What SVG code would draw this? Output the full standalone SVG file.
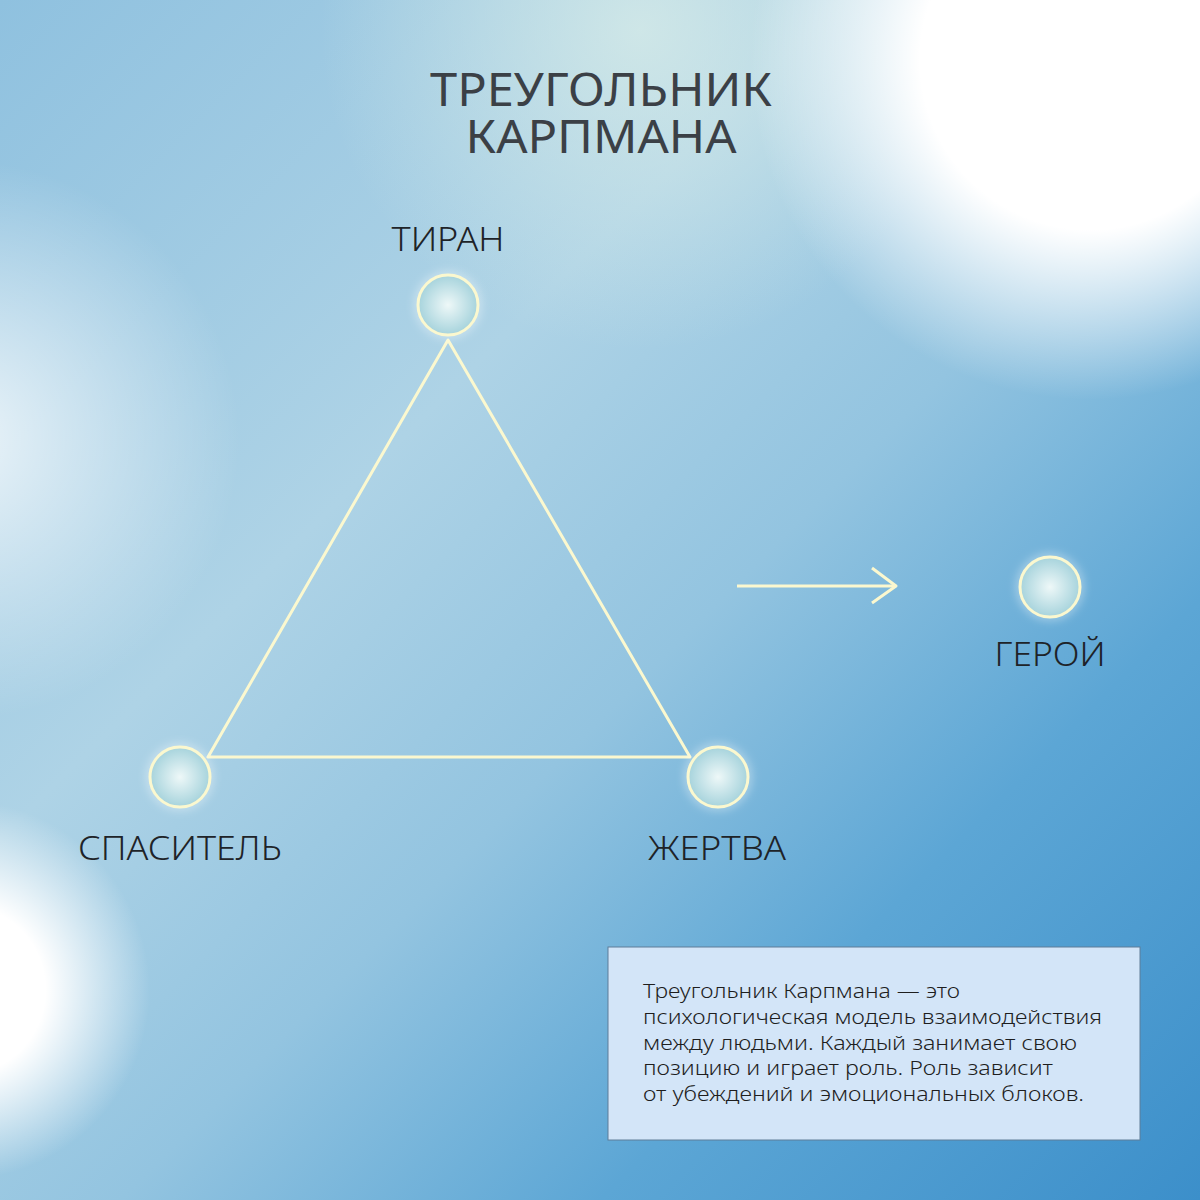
<svg xmlns="http://www.w3.org/2000/svg" width="1200" height="1200" viewBox="0 0 1200 1200">
<defs>
<linearGradient id="bg" x1="0" y1="0" x2="1" y2="1">
<stop offset="0" stop-color="#8fc1df"/>
<stop offset="0.35" stop-color="#aed3e6"/>
<stop offset="0.55" stop-color="#93c4e0"/>
<stop offset="0.75" stop-color="#5ca6d5"/>
<stop offset="1" stop-color="#3c8fca"/>
</linearGradient>
<radialGradient id="glowTR" cx="1090" cy="60" r="340" gradientUnits="userSpaceOnUse">
<stop offset="0" stop-color="#ffffff"/>
<stop offset="0.5" stop-color="#ffffff"/>
<stop offset="1" stop-color="#ffffff" stop-opacity="0"/>
</radialGradient>
<radialGradient id="glowBL" cx="-40" cy="990" r="190" gradientUnits="userSpaceOnUse">
<stop offset="0" stop-color="#ffffff"/>
<stop offset="0.45" stop-color="#ffffff"/>
<stop offset="1" stop-color="#ffffff" stop-opacity="0"/>
</radialGradient>
<radialGradient id="glowL" cx="-40" cy="440" r="280" gradientUnits="userSpaceOnUse">
<stop offset="0" stop-color="#ffffff" stop-opacity="0.8"/>
<stop offset="1" stop-color="#ffffff" stop-opacity="0"/>
</radialGradient>
<radialGradient id="glowTop" cx="640" cy="30" r="320" gradientUnits="userSpaceOnUse">
<stop offset="0" stop-color="#d8ece8" stop-opacity="0.8"/>
<stop offset="1" stop-color="#d8ece8" stop-opacity="0"/>
</radialGradient>
<radialGradient id="ball" cx="0.5" cy="0.5" r="0.5">
<stop offset="0" stop-color="#eef8f8"/>
<stop offset="1" stop-color="#a6d3dc"/>
</radialGradient>
<filter id="halo" x="-50%" y="-50%" width="200%" height="200%">
<feGaussianBlur stdDeviation="5"/>
</filter>
<style>
.ring{fill:url(#ball);stroke:#fbf8cf;stroke-width:3}
.halo{fill:none;stroke:#ffffff;stroke-opacity:0.5;stroke-width:6;filter:url(#halo)}
.lbl{font-family:"Noto Sans","DejaVu Sans",sans-serif;font-size:33px;font-weight:300;fill:#1e2328;text-anchor:middle}
.title{font-family:"Noto Sans","DejaVu Sans",sans-serif;font-size:45px;fill:#3b4046;text-anchor:middle}
.body{font-family:"Noto Sans","DejaVu Sans",sans-serif;font-size:20px;font-weight:300;fill:#1e1e1e}
.line{fill:none;stroke:#fbf8cf;stroke-width:3;stroke-linejoin:round}
</style>
</defs>
<rect width="1200" height="1200" fill="url(#bg)"/>
<rect width="1200" height="1200" fill="url(#glowTop)"/>
<rect width="1200" height="1200" fill="url(#glowL)"/>
<rect width="1200" height="1200" fill="url(#glowTR)"/>
<rect width="1200" height="1200" fill="url(#glowBL)"/>

<g id="title">
<text class="title" x="601" y="106" textLength="342" lengthAdjust="spacingAndGlyphs">ТРЕУГОЛЬНИК</text>
<text class="title" x="601" y="153" textLength="271" lengthAdjust="spacingAndGlyphs">КАРПМАНА</text>
</g>

<g id="connectors">
<polygon class="line" points="448,340 208,757 690,757"/>
<line class="line" x1="737" y1="586" x2="896" y2="586" stroke-width="2"/>
<polyline class="line" points="872,568 896,586 872,603" stroke-width="2"/>
</g>

<g id="tiran">
<circle class="halo" cx="448" cy="305" r="30"/>
<circle class="ring" cx="448" cy="305" r="30"/>
<text class="lbl" x="448" y="251" textLength="113" lengthAdjust="spacingAndGlyphs">ТИРАН</text>
</g>
<g id="spasitel">
<circle class="halo" cx="180" cy="777" r="30"/>
<circle class="ring" cx="180" cy="777" r="30"/>
<text class="lbl" x="180" y="860" textLength="204" lengthAdjust="spacingAndGlyphs">СПАСИТЕЛЬ</text>
</g>
<g id="zhertva">
<circle class="halo" cx="718" cy="777" r="30"/>
<circle class="ring" cx="718" cy="777" r="30"/>
<text class="lbl" x="717" y="860" textLength="138" lengthAdjust="spacingAndGlyphs">ЖЕРТВА</text>
</g>
<g id="geroy">
<circle class="halo" cx="1050" cy="587" r="30"/>
<circle class="ring" cx="1050" cy="587" r="30"/>
<text class="lbl" x="1050" y="666" textLength="111" lengthAdjust="spacingAndGlyphs">ГЕРОЙ</text>
</g>

<g id="note">
<rect x="608" y="947" width="532" height="193" fill="#d3e5f8" stroke="#5f7d98" stroke-width="1"/>
<text class="body" x="643" y="998" textLength="317" lengthAdjust="spacingAndGlyphs">Треугольник Карпмана — это</text>
<text class="body" x="643" y="1024" textLength="459" lengthAdjust="spacingAndGlyphs">психологическая модель взаимодействия</text>
<text class="body" x="643" y="1050" textLength="434" lengthAdjust="spacingAndGlyphs">между людьми. Каждый занимает свою</text>
<text class="body" x="643" y="1075" textLength="410" lengthAdjust="spacingAndGlyphs">позицию и играет роль. Роль зависит</text>
<text class="body" x="643" y="1101" textLength="441" lengthAdjust="spacingAndGlyphs">от убеждений и эмоциональных блоков.</text>
</g>
</svg>
